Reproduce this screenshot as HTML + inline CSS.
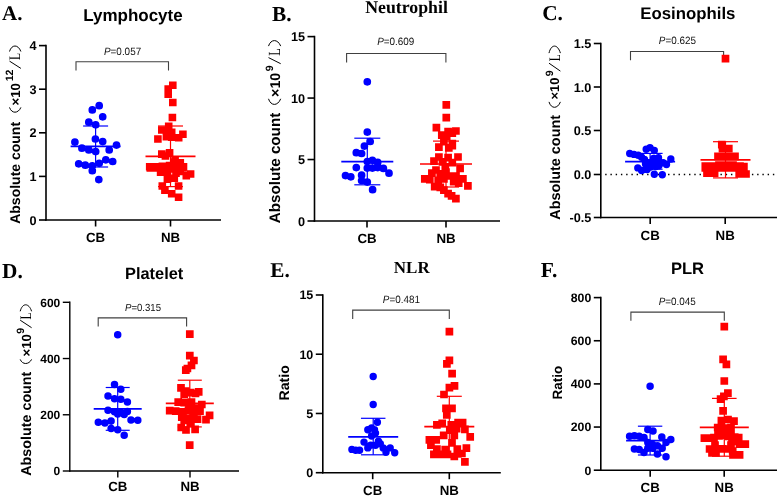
<!DOCTYPE html>
<html><head><meta charset="utf-8"><style>
html,body{margin:0;padding:0;background:#fff;}
svg{display:block;will-change:transform;text-rendering:geometricPrecision;}
</style></head><body>
<svg width="777" height="496" viewBox="0 0 777 496">
<rect width="777" height="496" fill="#fff"/>
<line x1="46" y1="44.7" x2="46" y2="220.8" stroke="#000" stroke-width="1.6" />
<line x1="45.2" y1="220" x2="221" y2="220" stroke="#000" stroke-width="1.6" />
<line x1="39" y1="220.0" x2="46" y2="220.0" stroke="#000" stroke-width="1.6" />
<text x="36.5" y="224.572" text-anchor="end" fill="#000" style='font-family:"Liberation Sans", sans-serif;font-size:12.7px;font-weight:bold;' >0</text>
<line x1="39" y1="176.4" x2="46" y2="176.4" stroke="#000" stroke-width="1.6" />
<text x="36.5" y="180.972" text-anchor="end" fill="#000" style='font-family:"Liberation Sans", sans-serif;font-size:12.7px;font-weight:bold;' >1</text>
<line x1="39" y1="132.8" x2="46" y2="132.8" stroke="#000" stroke-width="1.6" />
<text x="36.5" y="137.372" text-anchor="end" fill="#000" style='font-family:"Liberation Sans", sans-serif;font-size:12.7px;font-weight:bold;' >2</text>
<line x1="39" y1="89.19999999999999" x2="46" y2="89.19999999999999" stroke="#000" stroke-width="1.6" />
<text x="36.5" y="93.77199999999999" text-anchor="end" fill="#000" style='font-family:"Liberation Sans", sans-serif;font-size:12.7px;font-weight:bold;' >3</text>
<line x1="39" y1="45.599999999999994" x2="46" y2="45.599999999999994" stroke="#000" stroke-width="1.6" />
<text x="36.5" y="50.172" text-anchor="end" fill="#000" style='font-family:"Liberation Sans", sans-serif;font-size:12.7px;font-weight:bold;' >4</text>
<line x1="95.6" y1="220" x2="95.6" y2="226.5" stroke="#000" stroke-width="1.6" />
<line x1="170.5" y1="220" x2="170.5" y2="226.5" stroke="#000" stroke-width="1.6" />
<text x="95.6" y="241.5" text-anchor="middle" fill="#000" style='font-family:"Liberation Sans", sans-serif;font-size:13.3px;font-weight:bold;' >CB</text>
<text x="170.5" y="241.5" text-anchor="middle" fill="#000" style='font-family:"Liberation Sans", sans-serif;font-size:13.3px;font-weight:bold;' >NB</text>
<text x="2" y="19.8" text-anchor="start" fill="#000" style='font-family:"Liberation Serif", serif;font-size:21px;font-weight:bold;' >A.</text>
<text x="83.2" y="21.0" text-anchor="start" fill="#000" style='font-family:"Liberation Sans", sans-serif;font-size:17.0px;font-weight:bold;' >Lymphocyte</text>
<text x="104" y="54.6" fill="#111" textLength="37.15" lengthAdjust="spacingAndGlyphs" style='font-family:"Liberation Sans", sans-serif;font-size:10.59px;'><tspan font-style="italic">P</tspan>=0.057</text>
<polyline points="76,70.5 76,61.7 168.5,61.7 168.5,70.5" fill="none" stroke="#404040" stroke-width="1.1"/>
<g transform="translate(20.3,223.8) rotate(-90)">
<text x="0" y="0" style='font-family:"Liberation Sans", sans-serif;font-size:14px;font-weight:bold;'>Absolute count</text>
<path d="M 116.4 0.6 C 110.00 -2.16 110.00 -8.64 116.4 -10.8" fill="none" stroke="#000" stroke-width="1.0"/>
<text x="118.25" y="-0.5" style='font-family:"Liberation Sans", sans-serif;font-size:13.2px;font-weight:bold;'>×10</text>
<text x="142.47" y="-7" style='font-family:"Liberation Sans", sans-serif;font-size:10.6px;font-weight:bold;'>12</text>
<path d="M 155.4 0.6 L 162.7 -10.8" stroke="#000" stroke-width="1.0" fill="none"/>
<text x="0" y="0" transform="translate(167.2,0) scale(0.72,1)" text-anchor="middle" style='font-family:"Liberation Serif", serif;font-size:16px;'>L</text>
<path d="M 172.3 0.6 C 179.63 -2.16 179.63 -8.64 172.3 -10.8" fill="none" stroke="#000" stroke-width="1.0"/>
</g>
<line x1="70.6" y1="146.4" x2="120.6" y2="146.4" stroke="#0000ff" stroke-width="1.7" />
<line x1="95.6" y1="126" x2="95.6" y2="167" stroke="#0000ff" stroke-width="1.2" />
<line x1="83.1" y1="126" x2="108.1" y2="126" stroke="#0000ff" stroke-width="1.2" />
<line x1="83.1" y1="167" x2="108.1" y2="167" stroke="#0000ff" stroke-width="1.2" />
<path d="M95.35 105.70a3.85 3.85 0 1 0 7.70 0a3.85 3.85 0 1 0 -7.70 0zM88.45 109.90a3.85 3.85 0 1 0 7.70 0a3.85 3.85 0 1 0 -7.70 0zM98.85 116.80a3.85 3.85 0 1 0 7.70 0a3.85 3.85 0 1 0 -7.70 0zM84.95 122.20a3.85 3.85 0 1 0 7.70 0a3.85 3.85 0 1 0 -7.70 0zM91.85 124.80a3.85 3.85 0 1 0 7.70 0a3.85 3.85 0 1 0 -7.70 0zM91.55 139.00a3.85 3.85 0 1 0 7.70 0a3.85 3.85 0 1 0 -7.70 0zM98.85 141.60a3.85 3.85 0 1 0 7.70 0a3.85 3.85 0 1 0 -7.70 0zM71.05 142.10a3.85 3.85 0 1 0 7.70 0a3.85 3.85 0 1 0 -7.70 0zM78.05 148.20a3.85 3.85 0 1 0 7.70 0a3.85 3.85 0 1 0 -7.70 0zM84.95 149.90a3.85 3.85 0 1 0 7.70 0a3.85 3.85 0 1 0 -7.70 0zM91.85 151.60a3.85 3.85 0 1 0 7.70 0a3.85 3.85 0 1 0 -7.70 0zM105.35 149.90a3.85 3.85 0 1 0 7.70 0a3.85 3.85 0 1 0 -7.70 0zM112.65 145.10a3.85 3.85 0 1 0 7.70 0a3.85 3.85 0 1 0 -7.70 0zM101.95 159.80a3.85 3.85 0 1 0 7.70 0a3.85 3.85 0 1 0 -7.70 0zM108.85 161.50a3.85 3.85 0 1 0 7.70 0a3.85 3.85 0 1 0 -7.70 0zM74.85 163.80a3.85 3.85 0 1 0 7.70 0a3.85 3.85 0 1 0 -7.70 0zM81.45 165.20a3.85 3.85 0 1 0 7.70 0a3.85 3.85 0 1 0 -7.70 0zM88.45 165.90a3.85 3.85 0 1 0 7.70 0a3.85 3.85 0 1 0 -7.70 0zM95.35 163.30a3.85 3.85 0 1 0 7.70 0a3.85 3.85 0 1 0 -7.70 0zM88.45 170.70a3.85 3.85 0 1 0 7.70 0a3.85 3.85 0 1 0 -7.70 0zM94.95 179.60a3.85 3.85 0 1 0 7.70 0a3.85 3.85 0 1 0 -7.70 0z" fill="#0000ff"/>
<line x1="145.5" y1="156.3" x2="195.5" y2="156.3" stroke="#ff0000" stroke-width="1.7" />
<line x1="170.5" y1="126" x2="170.5" y2="186.6" stroke="#ff0000" stroke-width="1.2" />
<line x1="158.0" y1="126" x2="183.0" y2="126" stroke="#ff0000" stroke-width="1.2" />
<line x1="158.0" y1="186.6" x2="183.0" y2="186.6" stroke="#ff0000" stroke-width="1.2" />
<path d="M169.00 81.40h7.6v7.6h-7.6zM164.40 85.30h7.6v7.6h-7.6zM164.40 90.30h7.6v7.6h-7.6zM169.00 98.70h7.6v7.6h-7.6zM168.60 113.70h7.6v7.6h-7.6zM164.90 122.50h7.6v7.6h-7.6zM158.00 126.20h7.6v7.6h-7.6zM163.40 127.40h7.6v7.6h-7.6zM167.90 128.60h7.6v7.6h-7.6zM179.10 130.40h7.6v7.6h-7.6zM162.60 132.80h7.6v7.6h-7.6zM167.90 133.40h7.6v7.6h-7.6zM174.90 134.00h7.6v7.6h-7.6zM154.10 135.20h7.6v7.6h-7.6zM158.00 150.30h7.6v7.6h-7.6zM165.80 149.10h7.6v7.6h-7.6zM161.60 152.20h7.6v7.6h-7.6zM171.30 157.00h7.6v7.6h-7.6zM176.10 159.40h7.6v7.6h-7.6zM145.90 163.00h7.6v7.6h-7.6zM151.90 163.00h7.6v7.6h-7.6zM158.60 162.40h7.6v7.6h-7.6zM165.80 161.80h7.6v7.6h-7.6zM172.50 163.00h7.6v7.6h-7.6zM179.70 163.00h7.6v7.6h-7.6zM170.50 158.20h7.6v7.6h-7.6zM176.50 159.10h7.6v7.6h-7.6zM146.50 164.20h7.6v7.6h-7.6zM152.50 164.20h7.6v7.6h-7.6zM160.20 165.10h7.6v7.6h-7.6zM167.10 165.10h7.6v7.6h-7.6zM179.10 164.20h7.6v7.6h-7.6zM156.80 168.50h7.6v7.6h-7.6zM163.60 171.10h7.6v7.6h-7.6zM172.20 169.40h7.6v7.6h-7.6zM176.50 167.70h7.6v7.6h-7.6zM186.80 170.20h7.6v7.6h-7.6zM182.50 171.90h7.6v7.6h-7.6zM163.60 175.40h7.6v7.6h-7.6zM170.50 174.50h7.6v7.6h-7.6zM158.50 182.20h7.6v7.6h-7.6zM174.80 182.20h7.6v7.6h-7.6zM161.10 186.50h7.6v7.6h-7.6zM167.90 190.00h7.6v7.6h-7.6zM174.80 193.40h7.6v7.6h-7.6z" fill="#ff0000"/>
<line x1="314.5" y1="35.800000000000004" x2="314.5" y2="221.8" stroke="#000" stroke-width="1.6" />
<line x1="313.7" y1="221" x2="500" y2="221" stroke="#000" stroke-width="1.6" />
<line x1="307.5" y1="221.0" x2="314.5" y2="221.0" stroke="#000" stroke-width="1.6" />
<text x="305.0" y="225.572" text-anchor="end" fill="#000" style='font-family:"Liberation Sans", sans-serif;font-size:12.7px;font-weight:bold;' >0</text>
<line x1="307.5" y1="159.535" x2="314.5" y2="159.535" stroke="#000" stroke-width="1.6" />
<text x="305.0" y="164.107" text-anchor="end" fill="#000" style='font-family:"Liberation Sans", sans-serif;font-size:12.7px;font-weight:bold;' >5</text>
<line x1="307.5" y1="98.07000000000001" x2="314.5" y2="98.07000000000001" stroke="#000" stroke-width="1.6" />
<text x="305.0" y="102.64200000000001" text-anchor="end" fill="#000" style='font-family:"Liberation Sans", sans-serif;font-size:12.7px;font-weight:bold;' >10</text>
<line x1="307.5" y1="36.60500000000002" x2="314.5" y2="36.60500000000002" stroke="#000" stroke-width="1.6" />
<text x="305.0" y="41.17700000000002" text-anchor="end" fill="#000" style='font-family:"Liberation Sans", sans-serif;font-size:12.7px;font-weight:bold;' >15</text>
<line x1="367" y1="221" x2="367" y2="227.5" stroke="#000" stroke-width="1.6" />
<line x1="446" y1="221" x2="446" y2="227.5" stroke="#000" stroke-width="1.6" />
<text x="367" y="242.5" text-anchor="middle" fill="#000" style='font-family:"Liberation Sans", sans-serif;font-size:13.3px;font-weight:bold;' >CB</text>
<text x="446" y="242.5" text-anchor="middle" fill="#000" style='font-family:"Liberation Sans", sans-serif;font-size:13.3px;font-weight:bold;' >NB</text>
<text x="272.1" y="20.7" text-anchor="start" fill="#000" style='font-family:"Liberation Serif", serif;font-size:21.3px;font-weight:bold;' >B.</text>
<text x="365.2" y="12.9" text-anchor="start" fill="#000" style='font-family:"Liberation Serif", serif;font-size:17.8px;font-weight:bold;' >Neutrophil</text>
<text x="377.2" y="45.4" fill="#111" textLength="37.15" lengthAdjust="spacingAndGlyphs" style='font-family:"Liberation Sans", sans-serif;font-size:10.59px;'><tspan font-style="italic">P</tspan>=0.609</text>
<polyline points="346.6,62.5 346.6,53.5 445.9,53.5 445.9,62.5" fill="none" stroke="#404040" stroke-width="1.1"/>
<g transform="translate(280.1,223.3) rotate(-90)">
<text x="0" y="0" style='font-family:"Liberation Sans", sans-serif;font-size:15.2px;font-weight:bold;'>Absolute count</text>
<path d="M 124.5 0.6 C 117.03 -2.32 117.03 -9.28 124.5 -11.6" fill="none" stroke="#000" stroke-width="1.0"/>
<text x="126.40" y="-0.5" style='font-family:"Liberation Sans", sans-serif;font-size:14.2px;font-weight:bold;'>×10</text>
<text x="152.07" y="-7" style='font-family:"Liberation Sans", sans-serif;font-size:10.6px;font-weight:bold;'>9</text>
<path d="M 159.6 0.6 L 165.7 -11.6" stroke="#000" stroke-width="1.0" fill="none"/>
<text x="0" y="0" transform="translate(171.2,0) scale(0.72,1)" text-anchor="middle" style='font-family:"Liberation Serif", serif;font-size:17px;'>L</text>
<path d="M 177.2 0.6 C 184.53 -2.32 184.53 -9.28 177.2 -11.6" fill="none" stroke="#000" stroke-width="1.0"/>
</g>
<line x1="341.3" y1="161.6" x2="393.3" y2="161.6" stroke="#0000ff" stroke-width="1.7" />
<line x1="367.3" y1="138.2" x2="367.3" y2="184.8" stroke="#0000ff" stroke-width="1.2" />
<line x1="354.3" y1="138.2" x2="380.3" y2="138.2" stroke="#0000ff" stroke-width="1.2" />
<line x1="354.3" y1="184.8" x2="380.3" y2="184.8" stroke="#0000ff" stroke-width="1.2" />
<path d="M363.45 81.80a3.85 3.85 0 1 0 7.70 0a3.85 3.85 0 1 0 -7.70 0zM363.45 132.10a3.85 3.85 0 1 0 7.70 0a3.85 3.85 0 1 0 -7.70 0zM366.35 141.50a3.85 3.85 0 1 0 7.70 0a3.85 3.85 0 1 0 -7.70 0zM360.55 146.10a3.85 3.85 0 1 0 7.70 0a3.85 3.85 0 1 0 -7.70 0zM352.45 152.70a3.85 3.85 0 1 0 7.70 0a3.85 3.85 0 1 0 -7.70 0zM357.75 153.50a3.85 3.85 0 1 0 7.70 0a3.85 3.85 0 1 0 -7.70 0zM363.45 161.60a3.85 3.85 0 1 0 7.70 0a3.85 3.85 0 1 0 -7.70 0zM368.55 160.30a3.85 3.85 0 1 0 7.70 0a3.85 3.85 0 1 0 -7.70 0zM373.85 162.40a3.85 3.85 0 1 0 7.70 0a3.85 3.85 0 1 0 -7.70 0zM352.45 167.60a3.85 3.85 0 1 0 7.70 0a3.85 3.85 0 1 0 -7.70 0zM363.45 168.10a3.85 3.85 0 1 0 7.70 0a3.85 3.85 0 1 0 -7.70 0zM368.55 168.10a3.85 3.85 0 1 0 7.70 0a3.85 3.85 0 1 0 -7.70 0zM373.85 167.60a3.85 3.85 0 1 0 7.70 0a3.85 3.85 0 1 0 -7.70 0zM379.55 168.40a3.85 3.85 0 1 0 7.70 0a3.85 3.85 0 1 0 -7.70 0zM385.15 173.20a3.85 3.85 0 1 0 7.70 0a3.85 3.85 0 1 0 -7.70 0zM341.65 175.60a3.85 3.85 0 1 0 7.70 0a3.85 3.85 0 1 0 -7.70 0zM346.95 176.80a3.85 3.85 0 1 0 7.70 0a3.85 3.85 0 1 0 -7.70 0zM357.75 175.20a3.85 3.85 0 1 0 7.70 0a3.85 3.85 0 1 0 -7.70 0zM357.75 180.50a3.85 3.85 0 1 0 7.70 0a3.85 3.85 0 1 0 -7.70 0zM363.45 182.10a3.85 3.85 0 1 0 7.70 0a3.85 3.85 0 1 0 -7.70 0zM368.75 189.70a3.85 3.85 0 1 0 7.70 0a3.85 3.85 0 1 0 -7.70 0z" fill="#0000ff"/>
<line x1="420.0" y1="164" x2="472.0" y2="164" stroke="#ff0000" stroke-width="1.7" />
<line x1="446" y1="141.1" x2="446" y2="187" stroke="#ff0000" stroke-width="1.2" />
<line x1="433.0" y1="141.1" x2="459.0" y2="141.1" stroke="#ff0000" stroke-width="1.2" />
<line x1="433.0" y1="187" x2="459.0" y2="187" stroke="#ff0000" stroke-width="1.2" />
<path d="M442.45 101.05h7.7v7.7h-7.7zM442.45 113.75h7.7v7.7h-7.7zM432.55 123.85h7.7v7.7h-7.7zM444.25 127.85h7.7v7.7h-7.7zM452.05 127.15h7.7v7.7h-7.7zM437.95 131.35h7.7v7.7h-7.7zM442.85 132.75h7.7v7.7h-7.7zM448.45 129.25h7.7v7.7h-7.7zM440.05 137.75h7.7v7.7h-7.7zM448.45 139.85h7.7v7.7h-7.7zM435.05 143.35h7.7v7.7h-7.7zM444.95 144.05h7.7v7.7h-7.7zM448.45 141.85h7.7v7.7h-7.7zM435.05 153.15h7.7v7.7h-7.7zM444.25 153.85h7.7v7.7h-7.7zM454.15 153.15h7.7v7.7h-7.7zM430.15 157.35h7.7v7.7h-7.7zM438.65 158.05h7.7v7.7h-7.7zM448.45 158.75h7.7v7.7h-7.7zM441.45 163.05h7.7v7.7h-7.7zM456.25 164.45h7.7v7.7h-7.7zM428.05 169.35h7.7v7.7h-7.7zM436.45 170.05h7.7v7.7h-7.7zM444.95 172.15h7.7v7.7h-7.7zM420.95 175.05h7.7v7.7h-7.7zM425.95 175.75h7.7v7.7h-7.7zM434.35 176.45h7.7v7.7h-7.7zM440.05 175.05h7.7v7.7h-7.7zM449.85 177.85h7.7v7.7h-7.7zM459.05 175.05h7.7v7.7h-7.7zM454.85 179.25h7.7v7.7h-7.7zM464.05 182.05h7.7v7.7h-7.7zM430.85 182.75h7.7v7.7h-7.7zM436.45 183.45h7.7v7.7h-7.7zM440.05 186.35h7.7v7.7h-7.7zM444.25 189.85h7.7v7.7h-7.7zM447.75 191.95h7.7v7.7h-7.7zM452.05 194.75h7.7v7.7h-7.7zM432.15 166.15h7.7v7.7h-7.7zM442.15 168.15h7.7v7.7h-7.7zM452.15 172.15h7.7v7.7h-7.7z" fill="#ff0000"/>
<line x1="600.8" y1="42.7" x2="600.8" y2="218.3" stroke="#000" stroke-width="1.6" />
<line x1="600.0" y1="217.5" x2="777" y2="217.5" stroke="#000" stroke-width="1.6" />
<line x1="593.8" y1="43.5" x2="600.8" y2="43.5" stroke="#000" stroke-width="1.6" />
<text x="591.3" y="48.072" text-anchor="end" fill="#000" style='font-family:"Liberation Sans", sans-serif;font-size:12.7px;font-weight:bold;' >1.5</text>
<line x1="593.8" y1="87" x2="600.8" y2="87" stroke="#000" stroke-width="1.6" />
<text x="591.3" y="91.572" text-anchor="end" fill="#000" style='font-family:"Liberation Sans", sans-serif;font-size:12.7px;font-weight:bold;' >1.0</text>
<line x1="593.8" y1="130.5" x2="600.8" y2="130.5" stroke="#000" stroke-width="1.6" />
<text x="591.3" y="135.072" text-anchor="end" fill="#000" style='font-family:"Liberation Sans", sans-serif;font-size:12.7px;font-weight:bold;' >0.5</text>
<line x1="593.8" y1="174.5" x2="600.8" y2="174.5" stroke="#000" stroke-width="1.6" />
<text x="591.3" y="179.072" text-anchor="end" fill="#000" style='font-family:"Liberation Sans", sans-serif;font-size:12.7px;font-weight:bold;' >0.0</text>
<line x1="593.8" y1="217.5" x2="600.8" y2="217.5" stroke="#000" stroke-width="1.6" />
<text x="591.3" y="222.072" text-anchor="end" fill="#000" style='font-family:"Liberation Sans", sans-serif;font-size:12.7px;font-weight:bold;' >-0.5</text>
<line x1="650.2" y1="217.5" x2="650.2" y2="224.0" stroke="#000" stroke-width="1.6" />
<line x1="725.2" y1="217.5" x2="725.2" y2="224.0" stroke="#000" stroke-width="1.6" />
<text x="650.2" y="239.6" text-anchor="middle" fill="#000" style='font-family:"Liberation Sans", sans-serif;font-size:13.3px;font-weight:bold;' >CB</text>
<text x="725.2" y="239.6" text-anchor="middle" fill="#000" style='font-family:"Liberation Sans", sans-serif;font-size:13.3px;font-weight:bold;' >NB</text>
<line x1="605.2" y1="174.5" x2="777" y2="174.5" stroke="#000" stroke-width="1.4" stroke-dasharray="1.4 3.84"/>
<text x="542.2" y="19.8" text-anchor="start" fill="#000" style='font-family:"Liberation Serif", serif;font-size:21.3px;font-weight:bold;' >C.</text>
<text x="640.3" y="18.9" text-anchor="start" fill="#000" style='font-family:"Liberation Sans", sans-serif;font-size:16.8px;font-weight:bold;' >Eosinophils</text>
<text x="658.8" y="44.4" fill="#111" textLength="37.15" lengthAdjust="spacingAndGlyphs" style='font-family:"Liberation Sans", sans-serif;font-size:10.59px;'><tspan font-style="italic">P</tspan>=0.625</text>
<polyline points="630.5,60.2 630.5,51.5 723.6,51.5 723.6,60.2" fill="none" stroke="#404040" stroke-width="1.1"/>
<g transform="translate(559.8,219.7) rotate(-90)">
<text x="0" y="0" style='font-family:"Liberation Sans", sans-serif;font-size:14.4px;font-weight:bold;'>Absolute count</text>
<path d="M 117.8 0.6 C 110.60 -2.16 110.60 -8.64 117.8 -10.8" fill="none" stroke="#000" stroke-width="1.0"/>
<text x="120.16" y="-0.5" style='font-family:"Liberation Sans", sans-serif;font-size:12.9px;font-weight:bold;'>×10</text>
<text x="143.37" y="-7" style='font-family:"Liberation Sans", sans-serif;font-size:10.6px;font-weight:bold;'>9</text>
<path d="M 148.6 0.6 L 156.5 -10.8" stroke="#000" stroke-width="1.0" fill="none"/>
<text x="0" y="0" transform="translate(162.0,0) scale(0.72,1)" text-anchor="middle" style='font-family:"Liberation Serif", serif;font-size:16px;'>L</text>
<path d="M 166.6 0.6 C 175.93 -2.16 175.93 -8.64 166.6 -10.8" fill="none" stroke="#000" stroke-width="1.0"/>
</g>
<line x1="625.1" y1="161.6" x2="675.1" y2="161.6" stroke="#0000ff" stroke-width="1.7" />
<line x1="650.1" y1="153.4" x2="650.1" y2="169.2" stroke="#0000ff" stroke-width="1.2" />
<line x1="637.6" y1="153.4" x2="662.6" y2="153.4" stroke="#0000ff" stroke-width="1.2" />
<line x1="637.6" y1="169.2" x2="662.6" y2="169.2" stroke="#0000ff" stroke-width="1.2" />
<path d="M642.50 149.30a3.7 3.7 0 1 0 7.40 0a3.7 3.7 0 1 0 -7.40 0zM646.30 147.60a3.7 3.7 0 1 0 7.40 0a3.7 3.7 0 1 0 -7.40 0zM650.60 150.50a3.7 3.7 0 1 0 7.40 0a3.7 3.7 0 1 0 -7.40 0zM649.80 158.50a3.7 3.7 0 1 0 7.40 0a3.7 3.7 0 1 0 -7.40 0zM652.30 166.50a3.7 3.7 0 1 0 7.40 0a3.7 3.7 0 1 0 -7.40 0zM641.80 164.00a3.7 3.7 0 1 0 7.40 0a3.7 3.7 0 1 0 -7.40 0zM626.00 153.50a3.7 3.7 0 1 0 7.40 0a3.7 3.7 0 1 0 -7.40 0zM630.30 154.40a3.7 3.7 0 1 0 7.40 0a3.7 3.7 0 1 0 -7.40 0zM634.50 155.20a3.7 3.7 0 1 0 7.40 0a3.7 3.7 0 1 0 -7.40 0zM637.90 157.30a3.7 3.7 0 1 0 7.40 0a3.7 3.7 0 1 0 -7.40 0zM640.80 159.50a3.7 3.7 0 1 0 7.40 0a3.7 3.7 0 1 0 -7.40 0zM654.80 157.80a3.7 3.7 0 1 0 7.40 0a3.7 3.7 0 1 0 -7.40 0zM667.10 159.00a3.7 3.7 0 1 0 7.40 0a3.7 3.7 0 1 0 -7.40 0zM644.20 162.40a3.7 3.7 0 1 0 7.40 0a3.7 3.7 0 1 0 -7.40 0zM648.90 162.00a3.7 3.7 0 1 0 7.40 0a3.7 3.7 0 1 0 -7.40 0zM653.90 162.80a3.7 3.7 0 1 0 7.40 0a3.7 3.7 0 1 0 -7.40 0zM659.40 162.80a3.7 3.7 0 1 0 7.40 0a3.7 3.7 0 1 0 -7.40 0zM662.80 164.50a3.7 3.7 0 1 0 7.40 0a3.7 3.7 0 1 0 -7.40 0zM655.20 165.80a3.7 3.7 0 1 0 7.40 0a3.7 3.7 0 1 0 -7.40 0zM634.10 167.90a3.7 3.7 0 1 0 7.40 0a3.7 3.7 0 1 0 -7.40 0zM637.90 170.50a3.7 3.7 0 1 0 7.40 0a3.7 3.7 0 1 0 -7.40 0zM643.40 169.60a3.7 3.7 0 1 0 7.40 0a3.7 3.7 0 1 0 -7.40 0zM646.80 167.10a3.7 3.7 0 1 0 7.40 0a3.7 3.7 0 1 0 -7.40 0zM650.60 174.30a3.7 3.7 0 1 0 7.40 0a3.7 3.7 0 1 0 -7.40 0zM658.60 174.70a3.7 3.7 0 1 0 7.40 0a3.7 3.7 0 1 0 -7.40 0z" fill="#0000ff"/>
<line x1="700.5" y1="159.8" x2="750.5" y2="159.8" stroke="#ff0000" stroke-width="1.7" />
<line x1="725.5" y1="141.7" x2="725.5" y2="177.9" stroke="#ff0000" stroke-width="1.2" />
<line x1="713.0" y1="141.7" x2="738.0" y2="141.7" stroke="#ff0000" stroke-width="1.2" />
<line x1="713.0" y1="177.9" x2="738.0" y2="177.9" stroke="#ff0000" stroke-width="1.2" />
<path d="M721.65 54.75h7.7v7.7h-7.7zM717.95 140.75h7.7v7.7h-7.7zM718.65 144.65h7.7v7.7h-7.7zM724.95 144.65h7.7v7.7h-7.7zM714.15 152.55h7.7v7.7h-7.7zM721.15 152.55h7.7v7.7h-7.7zM728.15 152.55h7.7v7.7h-7.7zM731.15 152.55h7.7v7.7h-7.7zM701.45 162.15h7.7v7.7h-7.7zM708.15 162.15h7.7v7.7h-7.7zM715.15 161.15h7.7v7.7h-7.7zM722.15 161.15h7.7v7.7h-7.7zM729.15 161.15h7.7v7.7h-7.7zM736.15 162.15h7.7v7.7h-7.7zM740.05 162.65h7.7v7.7h-7.7zM701.45 164.15h7.7v7.7h-7.7zM708.15 164.15h7.7v7.7h-7.7zM715.15 164.15h7.7v7.7h-7.7zM722.15 164.15h7.7v7.7h-7.7zM729.15 164.15h7.7v7.7h-7.7zM736.15 164.15h7.7v7.7h-7.7zM740.05 164.15h7.7v7.7h-7.7zM703.15 169.35h7.7v7.7h-7.7zM710.75 169.35h7.7v7.7h-7.7zM735.35 170.15h7.7v7.7h-7.7zM742.15 170.15h7.7v7.7h-7.7z" fill="#ff0000"/>
<line x1="69.8" y1="301.6" x2="69.8" y2="471.7" stroke="#000" stroke-width="1.4" />
<line x1="69.1" y1="471" x2="239" y2="471" stroke="#000" stroke-width="1.4" />
<line x1="62.8" y1="471.0" x2="69.8" y2="471.0" stroke="#000" stroke-width="1.4" />
<text x="60.3" y="475.32" text-anchor="end" fill="#000" style='font-family:"Liberation Sans", sans-serif;font-size:12.0px;font-weight:bold;' >0</text>
<line x1="62.8" y1="414.766" x2="69.8" y2="414.766" stroke="#000" stroke-width="1.4" />
<text x="60.3" y="419.086" text-anchor="end" fill="#000" style='font-family:"Liberation Sans", sans-serif;font-size:12.0px;font-weight:bold;' >200</text>
<line x1="62.8" y1="358.53200000000004" x2="69.8" y2="358.53200000000004" stroke="#000" stroke-width="1.4" />
<text x="60.3" y="362.85200000000003" text-anchor="end" fill="#000" style='font-family:"Liberation Sans", sans-serif;font-size:12.0px;font-weight:bold;' >400</text>
<line x1="62.8" y1="302.298" x2="69.8" y2="302.298" stroke="#000" stroke-width="1.4" />
<text x="60.3" y="306.618" text-anchor="end" fill="#000" style='font-family:"Liberation Sans", sans-serif;font-size:12.0px;font-weight:bold;' >600</text>
<line x1="117.8" y1="471" x2="117.8" y2="477.5" stroke="#000" stroke-width="1.4" />
<line x1="190" y1="471" x2="190" y2="477.5" stroke="#000" stroke-width="1.4" />
<text x="117.8" y="490.8" text-anchor="middle" fill="#000" style='font-family:"Liberation Sans", sans-serif;font-size:13.3px;font-weight:bold;' >CB</text>
<text x="190" y="490.8" text-anchor="middle" fill="#000" style='font-family:"Liberation Sans", sans-serif;font-size:13.3px;font-weight:bold;' >NB</text>
<text x="2.1" y="277.8" text-anchor="start" fill="#000" style='font-family:"Liberation Serif", serif;font-size:21.3px;font-weight:bold;' >D.</text>
<text x="125.0" y="278.6" text-anchor="start" fill="#000" style='font-family:"Liberation Sans", sans-serif;font-size:16.4px;font-weight:bold;' >Platelet</text>
<text x="125" y="311" fill="#111" textLength="36.03" lengthAdjust="spacingAndGlyphs" style='font-family:"Liberation Sans", sans-serif;font-size:10.27px;'><tspan font-style="italic">P</tspan>=0.315</text>
<polyline points="98.2,326.5 98.2,317.9 186.6,317.9 186.6,326.5" fill="none" stroke="#404040" stroke-width="1.1"/>
<g transform="translate(31.0,475.7) rotate(-90)">
<text x="0" y="0" style='font-family:"Liberation Sans", sans-serif;font-size:14.3px;font-weight:bold;'>Absolute count</text>
<path d="M 116.3 0.6 C 110.83 -2.16 110.83 -8.64 116.3 -10.8" fill="none" stroke="#000" stroke-width="1.0"/>
<text x="119.15" y="-0.5" style='font-family:"Liberation Sans", sans-serif;font-size:13.2px;font-weight:bold;'>×10</text>
<text x="142.07" y="-7" style='font-family:"Liberation Sans", sans-serif;font-size:10.6px;font-weight:bold;'>9</text>
<path d="M 148.0 0.6 L 155.5 -10.8" stroke="#000" stroke-width="1.0" fill="none"/>
<text x="0" y="0" transform="translate(159.8,0) scale(0.72,1)" text-anchor="middle" style='font-family:"Liberation Serif", serif;font-size:16px;'>L</text>
<path d="M 164.4 0.6 C 173.07 -2.16 173.07 -8.64 164.4 -10.8" fill="none" stroke="#000" stroke-width="1.0"/>
</g>
<line x1="93.7" y1="408.8" x2="141.7" y2="408.8" stroke="#0000ff" stroke-width="1.7" />
<line x1="117.7" y1="387.5" x2="117.7" y2="430.3" stroke="#0000ff" stroke-width="1.2" />
<line x1="105.7" y1="387.5" x2="129.7" y2="387.5" stroke="#0000ff" stroke-width="1.2" />
<line x1="105.7" y1="430.3" x2="129.7" y2="430.3" stroke="#0000ff" stroke-width="1.2" />
<path d="M113.95 334.70a3.75 3.75 0 1 0 7.50 0a3.75 3.75 0 1 0 -7.50 0zM110.75 384.60a3.75 3.75 0 1 0 7.50 0a3.75 3.75 0 1 0 -7.50 0zM117.05 389.20a3.75 3.75 0 1 0 7.50 0a3.75 3.75 0 1 0 -7.50 0zM104.25 395.90a3.75 3.75 0 1 0 7.50 0a3.75 3.75 0 1 0 -7.50 0zM110.75 398.80a3.75 3.75 0 1 0 7.50 0a3.75 3.75 0 1 0 -7.50 0zM117.05 399.30a3.75 3.75 0 1 0 7.50 0a3.75 3.75 0 1 0 -7.50 0zM123.65 402.00a3.75 3.75 0 1 0 7.50 0a3.75 3.75 0 1 0 -7.50 0zM104.25 410.20a3.75 3.75 0 1 0 7.50 0a3.75 3.75 0 1 0 -7.50 0zM110.75 411.70a3.75 3.75 0 1 0 7.50 0a3.75 3.75 0 1 0 -7.50 0zM117.05 412.20a3.75 3.75 0 1 0 7.50 0a3.75 3.75 0 1 0 -7.50 0zM123.65 411.40a3.75 3.75 0 1 0 7.50 0a3.75 3.75 0 1 0 -7.50 0zM113.95 414.10a3.75 3.75 0 1 0 7.50 0a3.75 3.75 0 1 0 -7.50 0zM120.45 414.60a3.75 3.75 0 1 0 7.50 0a3.75 3.75 0 1 0 -7.50 0zM94.55 422.30a3.75 3.75 0 1 0 7.50 0a3.75 3.75 0 1 0 -7.50 0zM101.15 423.10a3.75 3.75 0 1 0 7.50 0a3.75 3.75 0 1 0 -7.50 0zM107.35 421.10a3.75 3.75 0 1 0 7.50 0a3.75 3.75 0 1 0 -7.50 0zM127.25 419.90a3.75 3.75 0 1 0 7.50 0a3.75 3.75 0 1 0 -7.50 0zM134.05 420.20a3.75 3.75 0 1 0 7.50 0a3.75 3.75 0 1 0 -7.50 0zM107.35 428.60a3.75 3.75 0 1 0 7.50 0a3.75 3.75 0 1 0 -7.50 0zM113.95 429.80a3.75 3.75 0 1 0 7.50 0a3.75 3.75 0 1 0 -7.50 0zM120.45 435.20a3.75 3.75 0 1 0 7.50 0a3.75 3.75 0 1 0 -7.50 0z" fill="#0000ff"/>
<line x1="165.8" y1="403.4" x2="213.8" y2="403.4" stroke="#ff0000" stroke-width="1.7" />
<line x1="189.8" y1="380.2" x2="189.8" y2="426.9" stroke="#ff0000" stroke-width="1.2" />
<line x1="177.8" y1="380.2" x2="201.8" y2="380.2" stroke="#ff0000" stroke-width="1.2" />
<line x1="177.8" y1="426.9" x2="201.8" y2="426.9" stroke="#ff0000" stroke-width="1.2" />
<path d="M185.95 330.35h7.7v7.7h-7.7zM185.95 351.75h7.7v7.7h-7.7zM190.05 356.65h7.7v7.7h-7.7zM187.65 361.45h7.7v7.7h-7.7zM183.55 364.65h7.7v7.7h-7.7zM181.95 366.35h7.7v7.7h-7.7zM177.15 384.05h7.7v7.7h-7.7zM181.95 387.25h7.7v7.7h-7.7zM186.75 388.85h7.7v7.7h-7.7zM194.85 388.05h7.7v7.7h-7.7zM180.35 390.55h7.7v7.7h-7.7zM191.65 389.65h7.7v7.7h-7.7zM174.35 398.25h7.7v7.7h-7.7zM180.35 398.85h7.7v7.7h-7.7zM187.65 398.25h7.7v7.7h-7.7zM197.95 400.65h7.7v7.7h-7.7zM165.85 406.75h7.7v7.7h-7.7zM171.85 407.35h7.7v7.7h-7.7zM179.15 407.95h7.7v7.7h-7.7zM190.05 406.75h7.7v7.7h-7.7zM196.15 407.35h7.7v7.7h-7.7zM205.75 411.55h7.7v7.7h-7.7zM177.95 413.35h7.7v7.7h-7.7zM185.15 414.65h7.7v7.7h-7.7zM193.65 415.25h7.7v7.7h-7.7zM202.15 415.85h7.7v7.7h-7.7zM187.05 419.45h7.7v7.7h-7.7zM177.35 423.65h7.7v7.7h-7.7zM182.15 426.15h7.7v7.7h-7.7zM191.25 425.45h7.7v7.7h-7.7zM185.85 441.25h7.7v7.7h-7.7zM184.65 406.75h7.7v7.7h-7.7zM190.05 413.95h7.7v7.7h-7.7zM185.15 399.45h7.7v7.7h-7.7zM192.45 404.35h7.7v7.7h-7.7zM186.45 418.85h7.7v7.7h-7.7zM180.35 416.45h7.7v7.7h-7.7z" fill="#ff0000"/>
<line x1="322.8" y1="294.2" x2="322.8" y2="473.5" stroke="#000" stroke-width="1.6" />
<line x1="322.0" y1="472.7" x2="500.8" y2="472.7" stroke="#000" stroke-width="1.6" />
<line x1="315.8" y1="472.7" x2="322.8" y2="472.7" stroke="#000" stroke-width="1.6" />
<text x="313.3" y="477.2" text-anchor="end" fill="#000" style='font-family:"Liberation Sans", sans-serif;font-size:12.5px;font-weight:bold;' >0</text>
<line x1="315.8" y1="413.465" x2="322.8" y2="413.465" stroke="#000" stroke-width="1.6" />
<text x="313.3" y="417.965" text-anchor="end" fill="#000" style='font-family:"Liberation Sans", sans-serif;font-size:12.5px;font-weight:bold;' >5</text>
<line x1="315.8" y1="354.23" x2="322.8" y2="354.23" stroke="#000" stroke-width="1.6" />
<text x="313.3" y="358.73" text-anchor="end" fill="#000" style='font-family:"Liberation Sans", sans-serif;font-size:12.5px;font-weight:bold;' >10</text>
<line x1="315.8" y1="294.995" x2="322.8" y2="294.995" stroke="#000" stroke-width="1.6" />
<text x="313.3" y="299.495" text-anchor="end" fill="#000" style='font-family:"Liberation Sans", sans-serif;font-size:12.5px;font-weight:bold;' >15</text>
<line x1="372.7" y1="472.7" x2="372.7" y2="479.2" stroke="#000" stroke-width="1.6" />
<line x1="449.3" y1="472.7" x2="449.3" y2="479.2" stroke="#000" stroke-width="1.6" />
<text x="372.7" y="494.9" text-anchor="middle" fill="#000" style='font-family:"Liberation Sans", sans-serif;font-size:13.3px;font-weight:bold;' >CB</text>
<text x="449.3" y="494.9" text-anchor="middle" fill="#000" style='font-family:"Liberation Sans", sans-serif;font-size:13.3px;font-weight:bold;' >NB</text>
<text x="270.3" y="276.9" text-anchor="start" fill="#000" style='font-family:"Liberation Serif", serif;font-size:21.2px;font-weight:bold;' >E.</text>
<text x="393.8" y="272.5" text-anchor="start" fill="#000" style='font-family:"Liberation Serif", serif;font-size:17.0px;font-weight:bold;' >NLR</text>
<text x="382.8" y="302.7" fill="#111" textLength="37.15" lengthAdjust="spacingAndGlyphs" style='font-family:"Liberation Sans", sans-serif;font-size:10.59px;'><tspan font-style="italic">P</tspan>=0.481</text>
<polyline points="352.7,319 352.7,310.1 449.3,310.1 449.3,319" fill="none" stroke="#404040" stroke-width="1.1"/>
<g transform="translate(289.4,400.4) rotate(-90)">
<text x="0" y="0" style='font-family:"Liberation Sans", sans-serif;font-size:14.1px;font-weight:bold;'>Ratio</text>
</g>
<line x1="348.2" y1="436.9" x2="398.2" y2="436.9" stroke="#0000ff" stroke-width="1.7" />
<line x1="373.2" y1="418.3" x2="373.2" y2="454.8" stroke="#0000ff" stroke-width="1.2" />
<line x1="360.95" y1="418.3" x2="385.45" y2="418.3" stroke="#0000ff" stroke-width="1.2" />
<line x1="360.95" y1="454.8" x2="385.45" y2="454.8" stroke="#0000ff" stroke-width="1.2" />
<path d="M369.50 376.50a3.7 3.7 0 1 0 7.40 0a3.7 3.7 0 1 0 -7.40 0zM369.50 404.50a3.7 3.7 0 1 0 7.40 0a3.7 3.7 0 1 0 -7.40 0zM373.70 422.20a3.7 3.7 0 1 0 7.40 0a3.7 3.7 0 1 0 -7.40 0zM364.10 429.80a3.7 3.7 0 1 0 7.40 0a3.7 3.7 0 1 0 -7.40 0zM367.90 427.90a3.7 3.7 0 1 0 7.40 0a3.7 3.7 0 1 0 -7.40 0zM370.80 429.80a3.7 3.7 0 1 0 7.40 0a3.7 3.7 0 1 0 -7.40 0zM371.80 433.10a3.7 3.7 0 1 0 7.40 0a3.7 3.7 0 1 0 -7.40 0zM367.90 436.00a3.7 3.7 0 1 0 7.40 0a3.7 3.7 0 1 0 -7.40 0zM374.70 441.30a3.7 3.7 0 1 0 7.40 0a3.7 3.7 0 1 0 -7.40 0zM360.30 442.10a3.7 3.7 0 1 0 7.40 0a3.7 3.7 0 1 0 -7.40 0zM367.00 445.20a3.7 3.7 0 1 0 7.40 0a3.7 3.7 0 1 0 -7.40 0zM371.80 445.20a3.7 3.7 0 1 0 7.40 0a3.7 3.7 0 1 0 -7.40 0zM376.60 443.60a3.7 3.7 0 1 0 7.40 0a3.7 3.7 0 1 0 -7.40 0zM364.10 447.90a3.7 3.7 0 1 0 7.40 0a3.7 3.7 0 1 0 -7.40 0zM348.20 449.40a3.7 3.7 0 1 0 7.40 0a3.7 3.7 0 1 0 -7.40 0zM352.00 450.30a3.7 3.7 0 1 0 7.40 0a3.7 3.7 0 1 0 -7.40 0zM355.90 450.30a3.7 3.7 0 1 0 7.40 0a3.7 3.7 0 1 0 -7.40 0zM379.50 447.90a3.7 3.7 0 1 0 7.40 0a3.7 3.7 0 1 0 -7.40 0zM386.50 447.90a3.7 3.7 0 1 0 7.40 0a3.7 3.7 0 1 0 -7.40 0zM382.30 452.30a3.7 3.7 0 1 0 7.40 0a3.7 3.7 0 1 0 -7.40 0zM391.00 452.80a3.7 3.7 0 1 0 7.40 0a3.7 3.7 0 1 0 -7.40 0z" fill="#0000ff"/>
<line x1="424.3" y1="426.7" x2="474.3" y2="426.7" stroke="#ff0000" stroke-width="1.7" />
<line x1="449.3" y1="396.3" x2="449.3" y2="457" stroke="#ff0000" stroke-width="1.2" />
<line x1="436.8" y1="396.3" x2="461.8" y2="396.3" stroke="#ff0000" stroke-width="1.2" />
<line x1="436.8" y1="457" x2="461.8" y2="457" stroke="#ff0000" stroke-width="1.2" />
<path d="M445.55 327.75h7.7v7.7h-7.7zM445.55 356.45h7.7v7.7h-7.7zM443.05 360.05h7.7v7.7h-7.7zM448.25 369.85h7.7v7.7h-7.7zM450.65 381.95h7.7v7.7h-7.7zM445.55 383.85h7.7v7.7h-7.7zM440.15 390.65h7.7v7.7h-7.7zM442.15 404.55h7.7v7.7h-7.7zM448.15 404.55h7.7v7.7h-7.7zM442.95 411.15h7.7v7.7h-7.7zM433.05 420.95h7.7v7.7h-7.7zM438.35 419.45h7.7v7.7h-7.7zM447.45 420.95h7.7v7.7h-7.7zM454.25 418.65h7.7v7.7h-7.7zM458.75 418.65h7.7v7.7h-7.7zM445.95 426.25h7.7v7.7h-7.7zM452.75 424.75h7.7v7.7h-7.7zM461.05 425.45h7.7v7.7h-7.7zM439.85 431.55h7.7v7.7h-7.7zM450.45 431.55h7.7v7.7h-7.7zM466.35 433.05h7.7v7.7h-7.7zM425.55 436.05h7.7v7.7h-7.7zM432.35 436.05h7.7v7.7h-7.7zM448.15 439.05h7.7v7.7h-7.7zM427.05 441.35h7.7v7.7h-7.7zM433.05 445.15h7.7v7.7h-7.7zM441.35 445.85h7.7v7.7h-7.7zM453.45 445.15h7.7v7.7h-7.7zM462.55 444.35h7.7v7.7h-7.7zM430.05 450.45h7.7v7.7h-7.7zM437.65 450.45h7.7v7.7h-7.7zM443.65 450.45h7.7v7.7h-7.7zM450.45 452.65h7.7v7.7h-7.7zM458.05 449.65h7.7v7.7h-7.7zM461.05 457.95h7.7v7.7h-7.7z" fill="#ff0000"/>
<line x1="600.8" y1="296.8" x2="600.8" y2="471.0" stroke="#000" stroke-width="1.6" />
<line x1="600.0" y1="470.2" x2="777" y2="470.2" stroke="#000" stroke-width="1.6" />
<line x1="593.8" y1="470.2" x2="600.8" y2="470.2" stroke="#000" stroke-width="1.6" />
<text x="591.3" y="474.628" text-anchor="end" fill="#000" style='font-family:"Liberation Sans", sans-serif;font-size:12.3px;font-weight:bold;' >0</text>
<line x1="593.8" y1="427.05" x2="600.8" y2="427.05" stroke="#000" stroke-width="1.6" />
<text x="591.3" y="431.478" text-anchor="end" fill="#000" style='font-family:"Liberation Sans", sans-serif;font-size:12.3px;font-weight:bold;' >200</text>
<line x1="593.8" y1="383.9" x2="600.8" y2="383.9" stroke="#000" stroke-width="1.6" />
<text x="591.3" y="388.328" text-anchor="end" fill="#000" style='font-family:"Liberation Sans", sans-serif;font-size:12.3px;font-weight:bold;' >400</text>
<line x1="593.8" y1="340.75" x2="600.8" y2="340.75" stroke="#000" stroke-width="1.6" />
<text x="591.3" y="345.178" text-anchor="end" fill="#000" style='font-family:"Liberation Sans", sans-serif;font-size:12.3px;font-weight:bold;' >600</text>
<line x1="593.8" y1="297.6" x2="600.8" y2="297.6" stroke="#000" stroke-width="1.6" />
<text x="591.3" y="302.028" text-anchor="end" fill="#000" style='font-family:"Liberation Sans", sans-serif;font-size:12.3px;font-weight:bold;' >800</text>
<line x1="650.2" y1="470.2" x2="650.2" y2="476.7" stroke="#000" stroke-width="1.6" />
<line x1="724.2" y1="470.2" x2="724.2" y2="476.7" stroke="#000" stroke-width="1.6" />
<text x="650.2" y="491.7" text-anchor="middle" fill="#000" style='font-family:"Liberation Sans", sans-serif;font-size:13.3px;font-weight:bold;' >CB</text>
<text x="724.2" y="491.7" text-anchor="middle" fill="#000" style='font-family:"Liberation Sans", sans-serif;font-size:13.3px;font-weight:bold;' >NB</text>
<text x="540.8" y="276.9" text-anchor="start" fill="#000" style='font-family:"Liberation Serif", serif;font-size:21.5px;font-weight:bold;' >F.</text>
<text x="670.9" y="273.8" text-anchor="start" fill="#000" style='font-family:"Liberation Sans", sans-serif;font-size:16.6px;font-weight:bold;' >PLR</text>
<text x="658.7" y="305.2" fill="#111" textLength="37.15" lengthAdjust="spacingAndGlyphs" style='font-family:"Liberation Sans", sans-serif;font-size:10.59px;'><tspan font-style="italic">P</tspan>=0.045</text>
<polyline points="630.9,320.8 630.9,312.1 724.3,312.1 724.3,320.8" fill="none" stroke="#404040" stroke-width="1.1"/>
<g transform="translate(561.7,399.5) rotate(-90)">
<text x="0" y="0" style='font-family:"Liberation Sans", sans-serif;font-size:13.5px;font-weight:bold;'>Ratio</text>
</g>
<line x1="626.1" y1="440.6" x2="674.1" y2="440.6" stroke="#0000ff" stroke-width="1.7" />
<line x1="650.1" y1="426.2" x2="650.1" y2="455" stroke="#0000ff" stroke-width="1.2" />
<line x1="637.9" y1="426.2" x2="662.3000000000001" y2="426.2" stroke="#0000ff" stroke-width="1.2" />
<line x1="637.9" y1="455" x2="662.3000000000001" y2="455" stroke="#0000ff" stroke-width="1.2" />
<path d="M646.35 386.30a3.75 3.75 0 1 0 7.50 0a3.75 3.75 0 1 0 -7.50 0zM644.05 429.50a3.75 3.75 0 1 0 7.50 0a3.75 3.75 0 1 0 -7.50 0zM649.25 431.00a3.75 3.75 0 1 0 7.50 0a3.75 3.75 0 1 0 -7.50 0zM625.85 436.20a3.75 3.75 0 1 0 7.50 0a3.75 3.75 0 1 0 -7.50 0zM630.65 435.80a3.75 3.75 0 1 0 7.50 0a3.75 3.75 0 1 0 -7.50 0zM635.45 436.20a3.75 3.75 0 1 0 7.50 0a3.75 3.75 0 1 0 -7.50 0zM640.25 437.50a3.75 3.75 0 1 0 7.50 0a3.75 3.75 0 1 0 -7.50 0zM658.05 437.10a3.75 3.75 0 1 0 7.50 0a3.75 3.75 0 1 0 -7.50 0zM667.05 439.40a3.75 3.75 0 1 0 7.50 0a3.75 3.75 0 1 0 -7.50 0zM644.05 442.50a3.75 3.75 0 1 0 7.50 0a3.75 3.75 0 1 0 -7.50 0zM648.85 444.40a3.75 3.75 0 1 0 7.50 0a3.75 3.75 0 1 0 -7.50 0zM662.25 442.50a3.75 3.75 0 1 0 7.50 0a3.75 3.75 0 1 0 -7.50 0zM653.65 445.80a3.75 3.75 0 1 0 7.50 0a3.75 3.75 0 1 0 -7.50 0zM658.45 448.30a3.75 3.75 0 1 0 7.50 0a3.75 3.75 0 1 0 -7.50 0zM630.65 449.00a3.75 3.75 0 1 0 7.50 0a3.75 3.75 0 1 0 -7.50 0zM635.45 449.60a3.75 3.75 0 1 0 7.50 0a3.75 3.75 0 1 0 -7.50 0zM644.05 448.30a3.75 3.75 0 1 0 7.50 0a3.75 3.75 0 1 0 -7.50 0zM648.85 448.30a3.75 3.75 0 1 0 7.50 0a3.75 3.75 0 1 0 -7.50 0zM640.25 452.50a3.75 3.75 0 1 0 7.50 0a3.75 3.75 0 1 0 -7.50 0zM653.65 454.00a3.75 3.75 0 1 0 7.50 0a3.75 3.75 0 1 0 -7.50 0zM662.25 456.70a3.75 3.75 0 1 0 7.50 0a3.75 3.75 0 1 0 -7.50 0z" fill="#0000ff"/>
<line x1="699.8" y1="427.3" x2="748.8" y2="427.3" stroke="#ff0000" stroke-width="1.7" />
<line x1="724.3" y1="398.4" x2="724.3" y2="456.2" stroke="#ff0000" stroke-width="1.2" />
<line x1="712.0" y1="398.4" x2="736.5999999999999" y2="398.4" stroke="#ff0000" stroke-width="1.2" />
<line x1="712.0" y1="456.2" x2="736.5999999999999" y2="456.2" stroke="#ff0000" stroke-width="1.2" />
<path d="M720.45 322.85h7.7v7.7h-7.7zM719.25 355.45h7.7v7.7h-7.7zM722.55 360.55h7.7v7.7h-7.7zM720.45 377.15h7.7v7.7h-7.7zM724.05 389.25h7.7v7.7h-7.7zM720.05 392.45h7.7v7.7h-7.7zM716.75 395.35h7.7v7.7h-7.7zM719.25 406.95h7.7v7.7h-7.7zM717.55 416.85h7.7v7.7h-7.7zM724.15 415.65h7.7v7.7h-7.7zM730.15 417.35h7.7v7.7h-7.7zM713.85 423.65h7.7v7.7h-7.7zM720.65 424.15h7.7v7.7h-7.7zM727.15 423.65h7.7v7.7h-7.7zM714.15 427.15h7.7v7.7h-7.7zM721.15 427.15h7.7v7.7h-7.7zM727.15 426.65h7.7v7.7h-7.7zM700.55 434.35h7.7v7.7h-7.7zM707.15 434.35h7.7v7.7h-7.7zM710.15 433.65h7.7v7.7h-7.7zM730.85 433.15h7.7v7.7h-7.7zM734.85 433.65h7.7v7.7h-7.7zM735.65 440.25h7.7v7.7h-7.7zM741.45 440.25h7.7v7.7h-7.7zM718.15 431.65h7.7v7.7h-7.7zM711.15 441.15h7.7v7.7h-7.7zM727.15 441.15h7.7v7.7h-7.7zM705.75 445.15h7.7v7.7h-7.7zM712.15 445.65h7.7v7.7h-7.7zM718.75 444.95h7.7v7.7h-7.7zM708.15 449.15h7.7v7.7h-7.7zM712.15 448.95h7.7v7.7h-7.7zM728.85 447.15h7.7v7.7h-7.7zM735.75 451.05h7.7v7.7h-7.7zM729.15 451.05h7.7v7.7h-7.7zM715.15 432.15h7.7v7.7h-7.7zM724.65 432.65h7.7v7.7h-7.7zM728.15 437.65h7.7v7.7h-7.7zM723.15 445.15h7.7v7.7h-7.7z" fill="#ff0000"/>
</svg>
</body></html>
